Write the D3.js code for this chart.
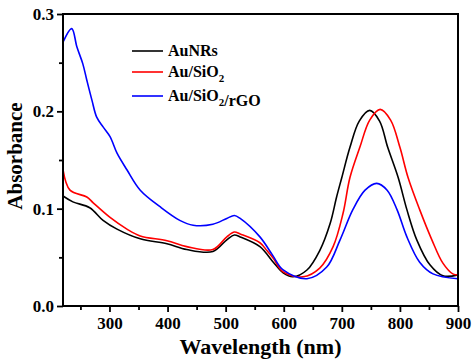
<!DOCTYPE html>
<html>
<head>
<meta charset="utf-8">
<script src="https://cdn.jsdelivr.net/npm/d3@7"></script>
<style>
  body { margin: 0; background: #fff; }
  text { font-family: "Liberation Serif", "Times New Roman", serif; font-weight: bold; }
</style>
</head>
<body>
<div id="chart"></div>
<script>
var width = 474,
    height = 364;
var margin = { top: 14, right: 16, bottom: 58, left: 63 };

// wavelength (nm) / absorbance pairs
var auNRs = [
  [220, 0.113], [237, 0.107], [266, 0.101], [289, 0.088], [313, 0.079], [353, 0.069],
  [399, 0.064], [433, 0.058], [478, 0.056], [502, 0.068], [515, 0.073], [525, 0.071],
  [559, 0.061], [582, 0.045], [599, 0.034], [616, 0.030], [640, 0.037], [662, 0.057],
  [680, 0.085], [691, 0.112], [700, 0.132], [714, 0.163], [730, 0.190], [748, 0.201],
  [765, 0.190], [779, 0.163], [797, 0.132], [812, 0.099], [829, 0.068], [852, 0.042],
  [874, 0.031], [900, 0.032]
];
var auSiO2 = [
  [220, 0.140], [232, 0.119], [261, 0.112], [272, 0.106], [301, 0.091], [330, 0.079],
  [353, 0.072], [399, 0.067], [433, 0.061], [478, 0.058], [502, 0.071], [515, 0.076],
  [525, 0.074], [559, 0.065], [571, 0.057], [582, 0.049], [599, 0.035], [633, 0.030],
  [662, 0.039], [685, 0.061], [702, 0.095], [714, 0.132], [731, 0.163], [748, 0.191],
  [766, 0.202], [784, 0.191], [800, 0.163], [814, 0.132], [834, 0.099], [855, 0.068],
  [874, 0.044], [891, 0.033], [900, 0.032]
];
var auSiO2rGO = [
  [220, 0.271], [235, 0.285], [244, 0.266], [254, 0.249], [261, 0.232], [270, 0.211],
  [278, 0.194], [289, 0.184], [301, 0.174], [313, 0.157], [330, 0.140], [353, 0.119],
  [387, 0.102], [421, 0.088], [444, 0.083], [478, 0.084], [502, 0.090], [515, 0.093],
  [525, 0.090], [559, 0.071], [581, 0.052], [599, 0.037], [640, 0.028], [674, 0.040],
  [697, 0.068], [719, 0.099], [740, 0.119], [760, 0.126], [778, 0.119], [795, 0.099],
  [812, 0.071], [834, 0.045], [857, 0.033], [900, 0.028]
];

var seriesNames = ["AuNRs", "Au/SiO2", "Au/SiO2/rGO"];
var seriesColors = ["#000000", "#ff0000", "#0000ff"];
var seriesData = [auNRs, auSiO2, auSiO2rGO];

var xTicks = [300, 400, 500, 600, 700, 800, 900];
var xMinor = [250, 350, 450, 550, 650, 750, 850];
var yTicks = [0.0, 0.1, 0.2, 0.3];
var yMinor = [0.05, 0.15, 0.25];

var svg = d3.select("#chart").append("svg")
    .attr("width", width)
    .attr("height", height);

var x = d3.scaleLinear().domain([220, 900]).range([margin.left, width - margin.right]);
var y = d3.scaleLinear().domain([0, 0.3]).range([height - margin.bottom, margin.top]);

var line = d3.line()
    .x(d => x(d[0]))
    .y(d => y(d[1]))
    .curve(d3.curveCatmullRom.alpha(0.5));

// curves
seriesData.forEach(function (data, i) {
    svg.append("path")
        .datum(data)
        .attr("fill", "none")
        .attr("stroke", seriesColors[i])
        .attr("stroke-width", 1.6)
        .attr("d", line);
});

// axes
svg.append("g")
    .attr("transform", "translate(0," + (height - margin.bottom) + ")")
    .call(d3.axisBottom(x).tickValues(xTicks).tickSize(6).tickPadding(5).tickFormat(d3.format("d")));
svg.append("g")
    .attr("transform", "translate(0," + (height - margin.bottom) + ")")
    .call(d3.axisBottom(x).tickValues(xMinor).tickSize(4).tickFormat(""));

svg.append("g")
    .attr("transform", "translate(" + margin.left + ",0)")
    .call(d3.axisLeft(y).tickValues(yTicks).tickSize(6).tickPadding(3).tickFormat(d3.format(".1f")));
svg.append("g")
    .attr("transform", "translate(" + margin.left + ",0)")
    .call(d3.axisLeft(y).tickValues(yMinor).tickSize(4).tickFormat(""));

svg.selectAll(".domain").remove();
svg.selectAll(".tick line").attr("stroke", "#000").attr("stroke-width", 1.8);
svg.selectAll(".tick text")
    .attr("fill", "#000")
    .style("font-size", "17px")
    .style("font-family", "'Liberation Serif', serif")
    .style("font-weight", "bold");

// frame
svg.append("rect")
    .attr("x", margin.left)
    .attr("y", margin.top)
    .attr("width", width - margin.left - margin.right)
    .attr("height", height - margin.top - margin.bottom)
    .attr("fill", "none")
    .attr("stroke", "#000")
    .attr("stroke-width", 2);

// axis titles
svg.append("text")
    .attr("x", (margin.left + width - margin.right) / 2)
    .attr("y", 354)
    .attr("text-anchor", "middle")
    .style("font-size", "22px")
    .text("Wavelength (nm)");

svg.append("text")
    .attr("transform", "translate(22," + 156 + ") rotate(-90)")
    .attr("text-anchor", "middle")
    .style("font-size", "21px")
    .text("Absorbance");

// legend
var legendY = [51, 72, 96];
var legend = svg.append("g");
seriesNames.forEach(function (name, i) {
    legend.append("line")
        .attr("x1", 132).attr("x2", 163)
        .attr("y1", legendY[i]).attr("y2", legendY[i])
        .attr("stroke", seriesColors[i])
        .attr("stroke-width", 1.6);
    var t = legend.append("text")
        .attr("x", 168)
        .attr("y", legendY[i] + 5)
        .style("font-size", "16px");
    var parts = name.split("2");
    parts.forEach(function (p, j) {
        t.append("tspan").text(p);
        if (j < parts.length - 1) {
            t.append("tspan").attr("dy", 5).style("font-size", "11px").text("2");
            t.append("tspan").attr("dy", -5).text("");
        }
    });
});
</script>
</body>
</html>
